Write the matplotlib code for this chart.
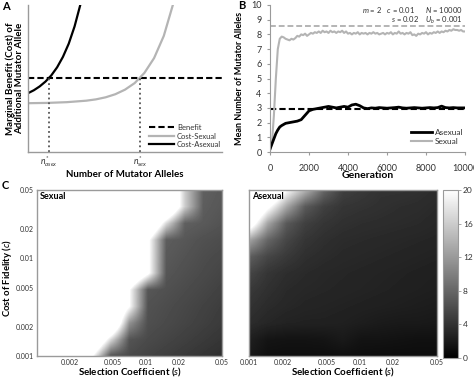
import matplotlib
matplotlib.use('Agg')
import matplotlib.pyplot as plt
import numpy as np
from matplotlib.lines import Line2D

plt.rcParams['font.family'] = ['Lato', 'DejaVu Sans']
plt.rcParams['mathtext.fontset'] = 'custom'
plt.rcParams['mathtext.it'] = 'Lato:italic'
plt.rcParams['mathtext.rm'] = 'Lato'
plt.rcParams['mathtext.bf'] = 'Lato:bold'

# ---------------- Panel A data (schematic) ----------------
benefit = 50.3
asex_x = [0, 3, 6, 9, 12, 15, 18, 21, 24, 27]
asex_cost = [40.0, 42.0, 44.6, 47.9, 52.1, 57.6, 64.7, 73.7, 85.4, 100.3]
sex_x = [0, 10, 20, 30, 35, 40, 45, 50, 55, 60, 65, 70, 75]
sex_cost = [33.2, 33.4, 33.9, 34.9, 35.8, 37.2, 39.3, 42.4, 46.9, 53.8, 63.9, 79.0, 101.5]
n_asex = 10.8
n_sex = 57.7

# ---------------- Panel B data ----------------
gens_sex = list(range(0, 10001, 100))
mean_sex = [0.1, 0.6, 2.5, 5.0, 7.0, 7.7, 7.85, 7.8, 7.7, 7.65,
            7.6, 7.7, 7.65, 7.75, 7.9, 7.85, 8.0, 7.95, 8.05, 7.9,
            8.0, 8.1, 8.05, 8.15, 8.1, 8.2, 8.1, 8.25, 8.15, 8.2,
            8.1, 8.25, 8.15, 8.2, 8.1, 8.2, 8.15, 8.25, 8.1, 8.2,
            8.05, 8.1, 8.0, 8.1, 8.05, 8.15, 8.0, 8.1, 8.05, 8.1,
            8.0, 8.1, 8.05, 8.15, 8.05, 8.1, 8.0, 8.05, 8.1, 8.0,
            8.1, 8.05, 8.15, 8.0, 8.1, 8.05, 8.2, 8.05, 8.1, 8.0,
            8.1, 8.05, 8.15, 7.95, 8.0, 7.9, 8.05, 8.0, 8.1, 8.05,
            8.15, 8.0, 8.1, 8.05, 8.15, 8.1, 8.2, 8.1, 8.2, 8.15,
            8.25, 8.2, 8.3, 8.25, 8.35, 8.3, 8.3, 8.25, 8.3, 8.2, 8.2]
gens_asex = [0, 100, 200, 300, 400, 500, 600] + list(range(800, 10001, 200))
mean_asex = [0.2, 0.55, 0.9, 1.25, 1.5, 1.7, 1.8,
             1.95, 2.0, 2.05, 2.1, 2.2, 2.5, 2.8, 2.9, 2.95, 3.0,
             3.05, 3.1, 3.05, 3.0, 3.05, 3.1, 3.05, 3.2, 3.25, 3.15,
             3.0, 2.95, 3.0, 2.98, 3.02, 3.0, 2.98, 3.0, 3.02, 3.05,
             3.0, 2.98, 3.0, 3.02, 3.0, 2.98, 3.0, 3.02, 3.0, 3.02,
             3.12, 3.02, 3.0, 3.02, 3.0, 3.0, 3.0]
eq_sex = 8.55
eq_asex = 2.92

# ---------------- Panel C data ----------------
s_grid = [0.001, 0.00148, 0.00219, 0.00324, 0.0048, 0.00711, 0.01052, 0.01558, 0.02306, 0.03415, 0.05]
c_grid = [0.001, 0.00148, 0.00219, 0.00324, 0.0048, 0.00711, 0.01052, 0.01558, 0.02306, 0.03415, 0.05]
# rows: c from low (bottom) to high (top); columns: s from low to high
sexual_vals = [
    [30, 30, 30, 20, 6.4, 5.8, 5.3, 4.9, 4.5, 4.1, 3.7],
    [30, 30, 30, 30, 17, 6.6, 5.8, 5.4, 5.0, 4.6, 4.2],
    [30, 30, 30, 30, 30, 11.5, 6.2, 5.8, 5.4, 5.0, 4.6],
    [30, 30, 30, 30, 30, 20, 6.4, 6.0, 5.6, 5.2, 4.8],
    [30, 30, 30, 30, 30, 20, 6.8, 6.3, 5.9, 5.5, 5.1],
    [30, 30, 30, 30, 30, 30, 21, 6.7, 6.2, 5.8, 5.4],
    [30, 30, 30, 30, 30, 30, 21, 7.0, 6.5, 6.0, 5.7],
    [30, 30, 30, 30, 30, 30, 21, 7.3, 6.8, 6.3, 6.0],
    [30, 30, 30, 30, 30, 30, 30, 17, 7.5, 7.0, 6.5],
    [30, 30, 30, 30, 30, 30, 30, 30, 16, 7.3, 6.8],
    [30, 30, 30, 30, 30, 30, 30, 30, 16, 7.5, 7.0],
]
asexual_vals = [
    [2.0, 1.2, 1.1, 1.1, 1.1, 1.2, 1.1, 1.0, 1.0, 1.0, 1.0],
    [2.5, 1.6, 1.5, 1.5, 1.6, 2.0, 1.5, 1.5, 1.4, 1.3, 1.3],
    [3.5, 3.0, 2.7, 2.6, 2.6, 2.5, 2.3, 2.1, 2.0, 2.0, 1.9],
    [4.0, 3.4, 3.1, 2.9, 2.8, 2.7, 2.6, 2.5, 2.4, 2.3, 2.2],
    [4.5, 3.8, 3.3, 3.1, 3.0, 2.9, 2.8, 2.7, 2.6, 2.5, 2.4],
    [5.5, 4.2, 3.6, 3.3, 3.1, 3.0, 2.9, 2.8, 2.7, 2.6, 2.5],
    [7.5, 5.5, 4.5, 3.7, 3.4, 3.2, 3.1, 3.0, 2.9, 2.8, 2.7],
    [13, 8.0, 5.5, 4.2, 3.7, 3.4, 3.3, 3.2, 3.1, 3.0, 2.9],
    [24, 13, 7.0, 5.0, 4.2, 3.8, 3.6, 3.5, 3.4, 3.3, 3.1],
    [30, 21, 13, 7.0, 5.0, 4.2, 4.0, 3.8, 3.6, 3.5, 3.3],
    [30, 30, 20, 14, 8.0, 5.0, 4.5, 4.0, 4.0, 3.8, 3.5],
]
tick_vals = [0.001, 0.002, 0.005, 0.01, 0.02, 0.05]
tick_labels = ['0.001', '0.002', '0.005', '0.01', '0.02', '0.05']
cbar_ticks = [0, 4, 8, 12, 16, 20]

SPINE = '#9a9a9a'
LGRAY = '#b4b4b4'
TXT = '#333333'

fig = plt.figure(figsize=(4.74, 3.79), dpi=100)

# ================= Panel A =================
axA = fig.add_axes([28/474, 1-152/379, 194/474, 147/379])
axA.set_xlim(0, 100)
axA.set_ylim(0, 100)
axA.plot([0, 100], [benefit, benefit], color='black', lw=1.5, ls=(0, (3, 1.5)), label='Benefit')
axA.plot(sex_x, sex_cost, color=LGRAY, lw=1.6, label='Cost-Sexual')
axA.plot(asex_x, asex_cost, color='black', lw=1.6, label='Cost-Asexual')
for n in (n_asex, n_sex):
    axA.plot([n, n], [0, benefit], color='#555555', ls=':', lw=1.3)
for side in ('top', 'right'):
    axA.spines[side].set_visible(False)
for side in ('left', 'bottom'):
    axA.spines[side].set_color(SPINE)
    axA.spines[side].set_linewidth(1.0)
axA.set_xticks([])
axA.set_yticks([])
axA.text(n_asex, -1.5, r'$n^*_{asex}$', ha='center', va='top', fontsize=6.2, color=TXT, clip_on=False)
axA.text(n_sex, -1.5, r'$n^*_{sex}$', ha='center', va='top', fontsize=6.2, color=TXT, clip_on=False)
axA.set_xlabel('Number of Mutator Alleles', fontsize=7, fontweight='bold', labelpad=13)
axA.set_ylabel('Marginal Benefit (Cost) of\nAdditional Mutator Allele', fontsize=7,
               fontweight='bold', labelpad=3, linespacing=1.0)
axA.legend(loc='lower right', bbox_to_anchor=(1.03, -0.02), frameon=False, fontsize=5.5,
           handlelength=3.2, handletextpad=0.4, labelspacing=0.2, labelcolor=TXT)

# ================= Panel B =================
axB = fig.add_axes([270/474, 1-152/379, 195/474, 147/379])
axB.plot([0, 10000], [eq_sex, eq_sex], color=LGRAY, lw=1.4, ls=(0, (3, 1.5)))
axB.plot([0, 10000], [eq_asex, eq_asex], color='black', lw=1.5, ls=(0, (3, 1.5)))
axB.plot(gens_sex, mean_sex, color=LGRAY, lw=1.5, label='Sexual')
axB.plot(gens_asex, mean_asex, color='black', lw=2.0, label='Asexual')
axB.set_xlim(0, 10000)
axB.set_ylim(0, 10)
axB.set_yticks(range(0, 11))
axB.set_xticks([0, 2000, 4000, 6000, 8000, 10000])
axB.tick_params(axis='both', labelsize=6.5, colors=SPINE, labelcolor=TXT, length=2.5, width=0.8)
axB.tick_params(axis='x', pad=6)
for side in ('top', 'right'):
    axB.spines[side].set_visible(False)
for side in ('left', 'bottom'):
    axB.spines[side].set_color(SPINE)
axB.set_xlabel('Generation', fontsize=7.5, fontweight='bold', labelpad=-1)
axB.set_ylabel('Mean Number of Mutator Alleles', fontsize=6.5, fontweight='bold', labelpad=5)
h = [Line2D([], [], color='black', lw=2.0), Line2D([], [], color=LGRAY, lw=1.5)]
axB.legend(h, ['Asexual', 'Sexual'], loc='lower right', bbox_to_anchor=(1.03, 0.0), frameon=False,
           fontsize=6, handlelength=2.6, handletextpad=0.3, labelspacing=0.2, labelcolor=TXT)
axB.text(0.99, 0.965, r'$m$ = 2   $c$ = 0.01      $N$ = 10000', transform=axB.transAxes,
         ha='right', va='center', fontsize=5.5, color=TXT)
axB.text(0.99, 0.895, r'$s$ = 0.02    $U_b$ = 0.001', transform=axB.transAxes,
         ha='right', va='center', fontsize=5.5, color=TXT)

# ================= Panel C =================
log_s = np.log10(s_grid)
log_c = np.log10(c_grid)
ds = (log_s[-1] - log_s[0]) / (len(s_grid) - 1)
dc = (log_c[-1] - log_c[0]) / (len(c_grid) - 1)
extent = [log_s[0] - ds/2, log_s[-1] + ds/2, log_c[0] - dc/2, log_c[-1] + dc/2]

axS = fig.add_axes([37/474, 1-356/379, 185/474, 166/379])
axX = fig.add_axes([249/474, 1-356/379, 188/474, 166/379])
img = None
for ax, vals, name in ((axS, sexual_vals, 'Sexual'), (axX, asexual_vals, 'Asexual')):
    img = ax.imshow(np.array(vals, dtype=float), origin='lower', extent=extent, aspect='auto',
                    cmap='gray', vmin=0, vmax=20, interpolation='bilinear',
                    interpolation_stage='data')
    ax.set_xlim(log_s[0], log_s[-1])
    ax.set_ylim(log_c[0], log_c[-1])
    for sp in ax.spines.values():
        sp.set_color(SPINE)
        sp.set_linewidth(1.0)
    ax.tick_params(axis='both', length=0, labelsize=5.0, labelcolor=TXT, pad=2.5)
    ax.text(0.015, 0.985, name, transform=ax.transAxes, ha='left', va='top',
            fontsize=6.5, fontweight='bold', color='black')
    ax.set_xlabel('Selection Coefficient ($\\mathit{s}$)', fontsize=7, fontweight='bold', labelpad=-0.5)

axS.set_xticks(np.log10(tick_vals[1:]))
axS.set_xticklabels(tick_labels[1:])
axS.set_yticks(np.log10(tick_vals))
axS.set_yticklabels(tick_labels)
axS.set_ylabel('Cost of Fidelity ($\\mathit{c}$)', fontsize=6.8, fontweight='bold')
axS.yaxis.set_label_coords(-0.125, 0.47)
axX.set_xticks(np.log10(tick_vals))
axX.set_xticklabels(tick_labels)
axX.set_yticks([])

cax = fig.add_axes([443/474, 1-358/379, 15/474, 168/379])
cb = fig.colorbar(img, cax=cax, ticks=cbar_ticks)
cb.ax.tick_params(labelsize=6, colors=SPINE, labelcolor=TXT, length=2, width=0.6, pad=1.5)
cb.outline.set_edgecolor(SPINE)

# panel letters
fig.text(2/474, 1-1/379, 'A', fontsize=8, fontweight='bold', va='top', ha='left')
fig.text(238/474, 1-0/379, 'B', fontsize=8, fontweight='bold', va='top', ha='left')
fig.text(2/474, 1-180/379, 'C', fontsize=8, fontweight='bold', va='top', ha='left')

fig.savefig('out.png', dpi=100)
